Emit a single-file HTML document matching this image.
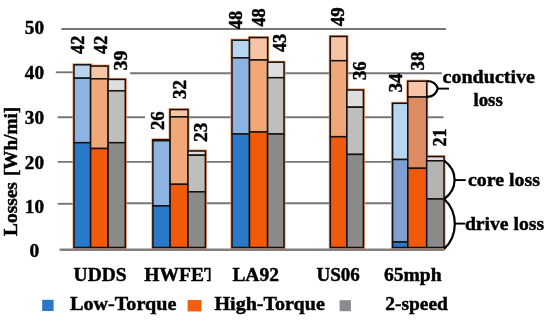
<!DOCTYPE html>
<html><head><meta charset="utf-8"><title>Losses chart</title>
<style>html,body{margin:0;padding:0;background:#fff}body{width:550px;height:324px;overflow:hidden}</style></head>
<body>
<svg width="550" height="324" viewBox="0 0 550 324" style="display:block;font-family:'Liberation Serif',serif;font-weight:bold">
<style>text{stroke:#000;stroke-width:0.45px}</style>
<rect width="550" height="324" fill="#fff"/>
<line x1="61.3" x2="446.0" y1="29.0" y2="29.0" stroke="#767676" stroke-width="1.9"/>
<line x1="55.8" x2="74.0" y1="72.3" y2="72.3" stroke="#767676" stroke-width="1.9"/>
<line x1="130.2" x2="441.8" y1="73.3" y2="73.3" stroke="#767676" stroke-width="1.9"/>
<line x1="57.7" x2="145.0" y1="117.2" y2="117.2" stroke="#767676" stroke-width="1.9"/>
<line x1="170.0" x2="443.5" y1="117.2" y2="117.2" stroke="#767676" stroke-width="1.9"/>
<line x1="57.7" x2="444.5" y1="161.9" y2="161.9" stroke="#767676" stroke-width="1.9"/>
<line x1="57.7" x2="74.0" y1="203.8" y2="203.8" stroke="#767676" stroke-width="1.9"/>
<line x1="120.0" x2="444.5" y1="203.3" y2="203.3" stroke="#767676" stroke-width="1.9"/>
<rect x="74.0" y="64.8" width="16.6" height="182.7" fill="none" stroke="#F08C58" stroke-width="3.0"/>
<rect x="90.6" y="66.1" width="17.5" height="181.4" fill="none" stroke="#F08C58" stroke-width="3.0"/>
<rect x="108.1" y="79.4" width="17.2" height="168.1" fill="none" stroke="#F08C58" stroke-width="3.0"/>
<rect x="152.9" y="139.8" width="17.2" height="107.7" fill="none" stroke="#F08C58" stroke-width="3.0"/>
<rect x="170.1" y="109.6" width="17.9" height="137.9" fill="none" stroke="#F08C58" stroke-width="3.0"/>
<rect x="188.0" y="151.0" width="17.4" height="96.5" fill="none" stroke="#F08C58" stroke-width="3.0"/>
<rect x="232.0" y="40.2" width="17.5" height="207.3" fill="none" stroke="#F08C58" stroke-width="3.0"/>
<rect x="249.5" y="37.6" width="18.1" height="209.9" fill="none" stroke="#F08C58" stroke-width="3.0"/>
<rect x="267.6" y="62.2" width="16.4" height="185.3" fill="none" stroke="#F08C58" stroke-width="3.0"/>
<rect x="330.3" y="36.5" width="16.6" height="211.0" fill="none" stroke="#F08C58" stroke-width="3.0"/>
<rect x="346.9" y="90.0" width="16.5" height="157.5" fill="none" stroke="#F08C58" stroke-width="3.0"/>
<rect x="392.6" y="103.3" width="15.2" height="144.2" fill="none" stroke="#F08C58" stroke-width="3.0"/>
<rect x="407.8" y="81.2" width="18.9" height="166.3" fill="none" stroke="#F08C58" stroke-width="3.0"/>
<rect x="426.7" y="156.6" width="17.3" height="90.9" fill="none" stroke="#F08C58" stroke-width="3.0"/>
<rect x="74.0" y="64.8" width="16.6" height="13.4" fill="#B8D5F0" stroke="#14100e" stroke-width="1.5"/>
<rect x="74.0" y="78.2" width="16.6" height="64.5" fill="#8FB3E0" stroke="#14100e" stroke-width="1.5"/>
<rect x="74.0" y="142.7" width="16.6" height="104.8" fill="#2A78C8" stroke="#14100e" stroke-width="1.5"/>
<rect x="90.6" y="66.1" width="17.5" height="12.7" fill="#F8C4A6" stroke="#14100e" stroke-width="1.5"/>
<rect x="90.6" y="78.8" width="17.5" height="69.7" fill="#F0A878" stroke="#14100e" stroke-width="1.5"/>
<rect x="90.6" y="148.5" width="17.5" height="99.0" fill="#F05A0A" stroke="#14100e" stroke-width="1.5"/>
<rect x="108.1" y="79.4" width="17.2" height="11.4" fill="#DEDEE0" stroke="#14100e" stroke-width="1.5"/>
<rect x="108.1" y="90.8" width="17.2" height="51.9" fill="#BEBEBE" stroke="#14100e" stroke-width="1.5"/>
<rect x="108.1" y="142.7" width="17.2" height="104.8" fill="#8A8A8A" stroke="#14100e" stroke-width="1.5"/>
<rect x="152.9" y="139.8" width="17.2" height="0.9" fill="#B8D5F0" stroke="#14100e" stroke-width="1.5"/>
<rect x="152.9" y="140.7" width="17.2" height="65.2" fill="#8FB3E0" stroke="#14100e" stroke-width="1.5"/>
<rect x="152.9" y="205.9" width="17.2" height="41.6" fill="#2A78C8" stroke="#14100e" stroke-width="1.5"/>
<rect x="170.1" y="109.6" width="17.9" height="7.3" fill="#F8C4A6" stroke="#14100e" stroke-width="1.5"/>
<rect x="170.1" y="116.9" width="17.9" height="67.4" fill="#F0A878" stroke="#14100e" stroke-width="1.5"/>
<rect x="170.1" y="184.3" width="17.9" height="63.2" fill="#F05A0A" stroke="#14100e" stroke-width="1.5"/>
<rect x="188.0" y="151.0" width="17.4" height="4.2" fill="#DEDEE0" stroke="#14100e" stroke-width="1.5"/>
<rect x="188.0" y="155.2" width="17.4" height="36.6" fill="#BEBEBE" stroke="#14100e" stroke-width="1.5"/>
<rect x="188.0" y="191.8" width="17.4" height="55.7" fill="#8A8A8A" stroke="#14100e" stroke-width="1.5"/>
<rect x="232.0" y="40.2" width="17.5" height="17.7" fill="#B8D5F0" stroke="#14100e" stroke-width="1.5"/>
<rect x="232.0" y="57.9" width="17.5" height="76.1" fill="#8FB3E0" stroke="#14100e" stroke-width="1.5"/>
<rect x="232.0" y="134.0" width="17.5" height="113.5" fill="#2A78C8" stroke="#14100e" stroke-width="1.5"/>
<rect x="249.5" y="37.6" width="18.1" height="22.4" fill="#F8C4A6" stroke="#14100e" stroke-width="1.5"/>
<rect x="249.5" y="60.0" width="18.1" height="72.0" fill="#F0A878" stroke="#14100e" stroke-width="1.5"/>
<rect x="249.5" y="132.0" width="18.1" height="115.5" fill="#F05A0A" stroke="#14100e" stroke-width="1.5"/>
<rect x="267.6" y="62.2" width="16.4" height="15.5" fill="#DEDEE0" stroke="#14100e" stroke-width="1.5"/>
<rect x="267.6" y="77.7" width="16.4" height="56.3" fill="#BEBEBE" stroke="#14100e" stroke-width="1.5"/>
<rect x="267.6" y="134.0" width="16.4" height="113.5" fill="#8A8A8A" stroke="#14100e" stroke-width="1.5"/>
<rect x="330.3" y="36.5" width="16.6" height="24.2" fill="#F8C4A6" stroke="#14100e" stroke-width="1.5"/>
<rect x="330.3" y="60.7" width="16.6" height="76.0" fill="#F0A878" stroke="#14100e" stroke-width="1.5"/>
<rect x="330.3" y="136.7" width="16.6" height="110.8" fill="#F05A0A" stroke="#14100e" stroke-width="1.5"/>
<rect x="346.9" y="90.0" width="16.5" height="17.2" fill="#DEDEE0" stroke="#14100e" stroke-width="1.5"/>
<rect x="346.9" y="107.2" width="16.5" height="47.2" fill="#BEBEBE" stroke="#14100e" stroke-width="1.5"/>
<rect x="346.9" y="154.4" width="16.5" height="93.1" fill="#8A8A8A" stroke="#14100e" stroke-width="1.5"/>
<rect x="392.6" y="103.3" width="15.2" height="56.2" fill="#B8D5F0" stroke="#14100e" stroke-width="1.5"/>
<rect x="392.6" y="159.5" width="15.2" height="82.5" fill="#7C9FD0" stroke="#14100e" stroke-width="1.5"/>
<rect x="392.6" y="242.0" width="15.2" height="5.5" fill="#2A78C8" stroke="#14100e" stroke-width="1.5"/>
<rect x="407.8" y="81.2" width="18.9" height="15.8" fill="#F8C4A6" stroke="#14100e" stroke-width="1.5"/>
<rect x="407.8" y="97.0" width="18.9" height="71.3" fill="#DC8C60" stroke="#14100e" stroke-width="1.5"/>
<rect x="407.8" y="168.3" width="18.9" height="79.2" fill="#F05A0A" stroke="#14100e" stroke-width="1.5"/>
<rect x="426.7" y="156.6" width="17.3" height="4.2" fill="#DEDEE0" stroke="#14100e" stroke-width="1.5"/>
<rect x="426.7" y="160.8" width="17.3" height="38.2" fill="#B4B4B4" stroke="#14100e" stroke-width="1.5"/>
<rect x="426.7" y="199.0" width="17.3" height="48.5" fill="#8A8A8A" stroke="#14100e" stroke-width="1.5"/>
<line x1="59.6" x2="444.5" y1="249.7" y2="249.7" stroke="#808080" stroke-width="2.4"/>
<text transform="translate(84.2,53.9) rotate(-90)" font-size="18.6" textLength="18.2" lengthAdjust="spacingAndGlyphs">42</text>
<text transform="translate(106.7,53.9) rotate(-90)" font-size="18.6" textLength="18.2" lengthAdjust="spacingAndGlyphs">42</text>
<text transform="translate(126.7,70.4) rotate(-90)" font-size="18.6" textLength="20.0" lengthAdjust="spacingAndGlyphs">39</text>
<text transform="translate(163.5,130.1) rotate(-90)" font-size="18.6" textLength="18.8" lengthAdjust="spacingAndGlyphs">26</text>
<text transform="translate(186.2,99.0) rotate(-90)" font-size="18.6" textLength="19.0" lengthAdjust="spacingAndGlyphs">32</text>
<text transform="translate(206.7,142.1) rotate(-90)" font-size="18.6" textLength="19.6" lengthAdjust="spacingAndGlyphs">23</text>
<text transform="translate(242.4,29.2) rotate(-90)" font-size="18.6" textLength="18.5" lengthAdjust="spacingAndGlyphs">48</text>
<text transform="translate(265.0,26.6) rotate(-90)" font-size="18.6" textLength="18.4" lengthAdjust="spacingAndGlyphs">48</text>
<text transform="translate(285.7,52.0) rotate(-90)" font-size="18.6" textLength="18.2" lengthAdjust="spacingAndGlyphs">43</text>
<text transform="translate(344.3,26.3) rotate(-90)" font-size="18.6" textLength="19.0" lengthAdjust="spacingAndGlyphs">49</text>
<text transform="translate(366.1,80.0) rotate(-90)" font-size="18.6" textLength="18.7" lengthAdjust="spacingAndGlyphs">36</text>
<text transform="translate(401.7,92.6) rotate(-90)" font-size="18.6" textLength="19.3" lengthAdjust="spacingAndGlyphs">34</text>
<text transform="translate(423.7,70.5) rotate(-90)" font-size="18.6" textLength="18.8" lengthAdjust="spacingAndGlyphs">38</text>
<text transform="translate(445.6,146.6) rotate(-90)" font-size="18.6" textLength="18.0" lengthAdjust="spacingAndGlyphs">21</text>
<text x="44" y="34.4" font-size="19.5" text-anchor="end" textLength="19.2" lengthAdjust="spacingAndGlyphs">50</text>
<text x="44" y="79.3" font-size="19.5" text-anchor="end" textLength="19.2" lengthAdjust="spacingAndGlyphs">40</text>
<text x="44" y="123.9" font-size="19.5" text-anchor="end" textLength="19.2" lengthAdjust="spacingAndGlyphs">30</text>
<text x="44" y="168.7" font-size="19.5" text-anchor="end" textLength="19.2" lengthAdjust="spacingAndGlyphs">20</text>
<text x="44" y="212.9" font-size="19.5" text-anchor="end" textLength="19.2" lengthAdjust="spacingAndGlyphs">10</text>
<text x="39.2" y="257.4" font-size="19.5" text-anchor="end">0</text>
<text transform="translate(16.8,236) rotate(-90)" font-size="19" textLength="53.9" lengthAdjust="spacingAndGlyphs">Losses</text>
<text transform="translate(16.8,176.1) rotate(-90)" font-size="19" textLength="69.3" lengthAdjust="spacingAndGlyphs">[Wh/mi]</text>
<text x="73.6" y="281.0" font-size="19.5" textLength="53.1" lengthAdjust="spacingAndGlyphs">UDDS</text>
<text x="232.4" y="281.0" font-size="19.5" textLength="46.5" lengthAdjust="spacingAndGlyphs">LA92</text>
<text x="316.5" y="281.0" font-size="19.5" textLength="43.4" lengthAdjust="spacingAndGlyphs">US06</text>
<text x="383.9" y="281.0" font-size="19.5" textLength="57.7" lengthAdjust="spacingAndGlyphs">65mph</text>
<clipPath id="hc"><rect x="140" y="260" width="70.6" height="30"/></clipPath>
<text x="144.3" y="281.0" font-size="19.5" clip-path="url(#hc)">HWFET</text>
<rect x="42.2" y="299.8" width="11.4" height="11.2" fill="#2A78C8"/>
<rect x="187.6" y="300" width="14" height="11.4" fill="#F06010"/>
<rect x="339.6" y="300.2" width="11.3" height="11" fill="#8A8A90"/>
<text x="70.0" y="310.1" font-size="19.5" textLength="106.4" lengthAdjust="spacingAndGlyphs">Low-Torque</text>
<text x="214.5" y="310.1" font-size="19.5" textLength="110.3" lengthAdjust="spacingAndGlyphs">High-Torque</text>
<text x="385.2" y="310.1" font-size="19.5" textLength="62.7" lengthAdjust="spacingAndGlyphs">2-speed</text>
<text x="442.6" y="82.6" font-size="19.5" textLength="92.3" lengthAdjust="spacingAndGlyphs">conductive</text>
<text x="473.4" y="105.8" font-size="19.5" textLength="29.4" lengthAdjust="spacingAndGlyphs">loss</text>
<text x="467.9" y="186.0" font-size="19.5" textLength="72" lengthAdjust="spacingAndGlyphs">core loss</text>
<text x="464.9" y="229.6" font-size="19.5" textLength="79.2" lengthAdjust="spacingAndGlyphs">drive loss</text>
<g fill="none" stroke="#000" stroke-width="2.2" stroke-linejoin="miter">
<path d="M426.9,81.0 C432.5,81.0 436.3,84.0 437.8,88.6 C436.3,93.2 432.5,96.8 426.9,96.8"/>
<path d="M444.2,160.7 C449.9,164.9 454.6,171.8 454.6,179.8 C454.6,187.9 449.9,194.8 444.2,199.0"/>
<path d="M444.2,199.0 C450.0,204.5 454.8,213.5 454.8,223.9 C454.8,234.4 450.0,243.4 444.2,248.9"/>
</g>
<g stroke="#000" stroke-width="1.9">
<line x1="437.8" x2="449" y1="88.6" y2="88.6"/>
<line x1="454.6" x2="465.8" y1="180.1" y2="180.1"/>
<line x1="454.8" x2="465.2" y1="223.6" y2="223.6"/>
</g>
</svg>
</body></html>
